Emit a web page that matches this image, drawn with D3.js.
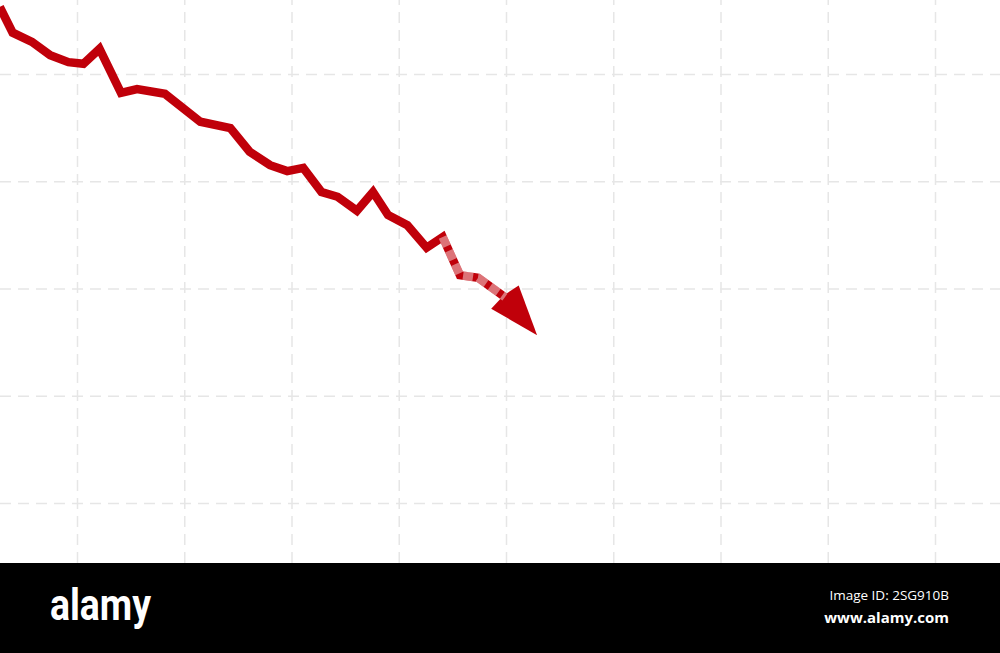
<!DOCTYPE html>
<html>
<head>
<meta charset="utf-8">
<script src="https://cdn.jsdelivr.net/npm/d3@7"></script>
<style>
  html, body { margin: 0; padding: 0; background: #fff; }
  svg { display: block; }
  .grid line { stroke: #e6e6e6; stroke-width: 1.5; stroke-dasharray: 11, 7; }
  .grid .domain, .grid text { display: none; }
</style>
</head>
<body>
<svg id="chart" width="1000" height="653"></svg>
<script>
// 數據: x 為時間刻度 (格), y 為價格
var xs = [0.28, 0.40, 0.58, 0.75, 0.92, 1.06, 1.21, 1.41, 1.56, 1.82, 2.15, 2.43, 2.61, 2.80,
          2.96, 3.11, 3.28, 3.43, 3.61, 3.76, 3.90, 4.08, 4.26, 4.41, 4.57, 4.74, 4.99];
var ys = [112.5, 107.7, 106.0, 103.5, 102.2, 101.9, 104.7, 96.5, 97.2, 96.3, 91.1, 89.9, 85.5, 83.0,
          81.9, 82.5, 78.0, 77.1, 74.5, 78.0, 73.7, 71.8, 67.6, 69.6, 62.5, 62.0, 58.4];
var arrowTip = [5.29, 51.3];   // 箭頭尖端
var xTicks = [1, 2, 3, 4, 5, 6, 7, 8, 9];
var yTicks = [20, 40, 60, 80, 100];

var svg = d3.select('#chart');
var width = 1000,
    chart_height = 563;

// 比例尺 (每格 107.25px)
var xScale = d3.scaleLinear().domain([1, 9]).range([77, 935]);
var yScale = d3.scaleLinear().domain([20, 100]).range([503, 74]);

svg.append('rect')
  .attr('width', width).attr('height', chart_height)
  .attr('fill', '#ffffff');

// 網格線
svg.append('g')
  .attr('class', 'grid')
  .attr('transform', 'translate(0,' + chart_height + ')')
  .call(d3.axisBottom(xScale).tickValues(xTicks).tickSize(-chart_height).tickFormat(''));

svg.append('g')
  .attr('class', 'grid')
  .call(d3.axisLeft(yScale).tickValues(yTicks).tickSize(-width).tickFormat(''));

var data = xs.map(function(x, i) { return [x, ys[i]]; });

var line = d3.line()
  .x(function(d) { return xScale(d[0]); })
  .y(function(d) { return yScale(d[1]); });

var red = '#c0000a';

svg.append('path')
  .datum(data)
  .attr('d', line)
  .attr('fill', 'none')
  .attr('stroke', red)
  .attr('stroke-width', 8.5)
  .attr('stroke-linejoin', 'miter')
  .attr('stroke-miterlimit', 3);

// 箭頭
var last = data[data.length - 1];
var bx = xScale(last[0]), by = yScale(last[1]);
var tx = xScale(arrowTip[0]), ty = yScale(arrowTip[1]);
var dx = tx - bx, dy = ty - by, len = Math.sqrt(dx * dx + dy * dy);
var px = -dy / len * 18, py = dx / len * 18;
svg.append('path')
  .attr('d', 'M' + tx + ',' + ty + 'L' + (bx + px) + ',' + (by + py) +
             'L' + (bx - dx / len * 2) + ',' + (by - dy / len * 2) +
             'L' + (bx - px) + ',' + (by - py) + 'Z')
  .attr('fill', red);

// 浮水印 (淺色)
svg.append('path')
  .datum(data.slice(data.length - 4))
  .attr('d', line)
  .attr('fill', 'none')
  .attr('stroke', '#ffffff')
  .attr('stroke-opacity', 0.45)
  .attr('stroke-width', 8.5)
  .attr('stroke-dasharray', '10,5');

// 底部黑條
svg.append('rect')
  .attr('y', chart_height)
  .attr('width', width).attr('height', 653 - chart_height)
  .attr('fill', '#000000');

svg.append('text')
  .attr('x', 50).attr('y', 620)
  .attr('font-family', 'Roboto, sans-serif')
  .attr('font-weight', 'bold')
  .attr('font-size', 45)
  .attr('textLength', 101)
  .attr('lengthAdjust', 'spacingAndGlyphs')
  .attr('fill', '#ffffff')
  .text('alamy');

svg.append('text')
  .attr('x', 949).attr('y', 600)
  .attr('text-anchor', 'end')
  .attr('font-family', '"Open Sans", "Noto Sans", sans-serif')
  .attr('font-size', 13.5)
  .attr('fill', '#ffffff')
  .text('Image ID: 2SG910B');

svg.append('text')
  .attr('x', 949).attr('y', 623)
  .attr('text-anchor', 'end')
  .attr('font-family', '"Open Sans", "Noto Sans", sans-serif')
  .attr('font-weight', 'bold')
  .attr('font-size', 15)
  .attr('fill', '#ffffff')
  .text('www.alamy.com');
</script>
</body>
</html>
